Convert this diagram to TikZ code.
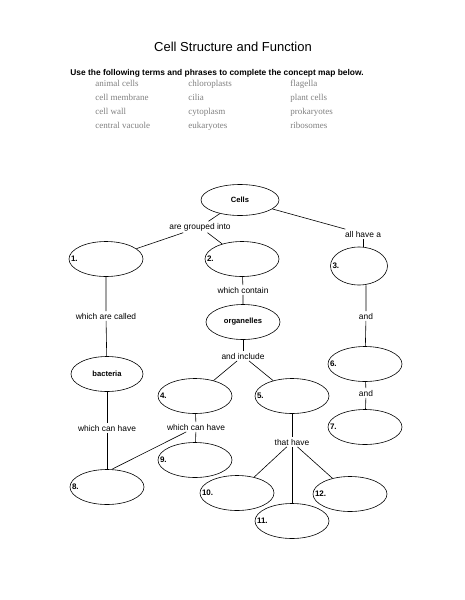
\documentclass[tikz,border=0pt]{standalone}
\usepackage{fontspec}
\setmainfont{Liberation Serif}
\setsansfont{Liberation Sans}
\usetikzlibrary{shapes.geometric}

\begin{document}
\begin{tikzpicture}[x = 1pt, y = -1pt, line width = 0.6pt, font = \sffamily\fontsize{8.4}{10}\selectfont,
	blank/.style = {ellipse, draw, minimum width = 74pt, minimum height = 35pt, inner sep = 0pt, font = \sffamily\bfseries\fontsize{7.6}{9}\selectfont},
	oval/.style = {blank, label = {[anchor = west, inner sep = 2pt, font = \sffamily\bfseries\fontsize{8}{9}\selectfont]west:#1}},
	link/.style = {inner sep = 1.5pt},
	word/.style = {anchor = base west, inner sep = 0pt, text = black!50, font = \rmfamily\fontsize{9}{10}\selectfont}]

	\useasboundingbox (0, 0) rectangle (464, 600);

	\node (title) at (233, 47) {\fontsize{13}{15}\selectfont Cell Structure and Function};
	\node (task) at (217, 73) {\bfseries\fontsize{8.4}{10}\selectfont Use the following terms and phrases to complete the concept map below.};

	\foreach \x/\terms in {95/{animal cells, cell membrane, cell wall, central vacuole}, 188/{chloroplasts, cilia, cytoplasm, eukaryotes}, 290/{flagella, plant cells, prokaryotes, ribosomes}}
		\foreach \w [count = \r] in \terms
			\node [word] (t\x-\r) at (\x, 72 + 14 * \r) {\w};

	\node [blank, minimum width = 78pt, minimum height = 31pt] (cells) at (240, 200) {Cells};
	\node [oval = 1.] (n1) at (106, 259) {};
	\node [oval = 2.] (n2) at (242, 259) {};
	\node [oval = 3., minimum width = 57pt, minimum height = 38pt] (n3) at (359, 266) {};
	\node [blank] (organelles) at (243, 322) {organelles};
	\node [blank, minimum width = 72pt] (bacteria) at (107, 374) {bacteria};
	\node [oval = 4.] (n4) at (195, 396) {};
	\node [oval = 5.] (n5) at (292, 396) {};
	\node [oval = 6.] (n6) at (365, 364) {};
	\node [oval = 7.] (n7) at (365, 427) {};
	\node [oval = 8.] (n8) at (107, 487) {};
	\node [oval = 9.] (n9) at (195, 460) {};
	\node [oval = 10.] (n10) at (237, 493) {};
	\node [oval = 11.] (n11) at (292, 521) {};
	\node [oval = 12.] (n12) at (350, 494) {};

	\node [link] (grouped) at (200, 227) {are grouped into};
	\node [link] (allhave) at (363, 234) {all have a};
	\node [link] (called) at (106, 316) {which are called};
	\node [link] (contain) at (243, 290) {which contain};
	\node [link] (and1) at (366, 316) {and};
	\node [link] (include) at (243, 356) {and include};
	\node [link] (and2) at (366, 393) {and};
	\node [link] (canhave1) at (107, 428) {which can have};
	\node [link] (canhave2) at (196, 427) {which can have};
	\node [link] (thathave) at (292, 442) {that have};

	\draw (cells) -- (grouped);
	\draw (grouped) -- (n1);
	\draw (grouped) -- (n2);
	\draw (cells) -- (allhave);
	\draw (allhave) -- (allhave |- n3.north);

	\draw (n1) -- (called) -- (bacteria);
	\draw (n2) -- (contain) -- (organelles);
	\draw (and1 |- n3.south) -- (and1) -- (n6);

	\draw (organelles) -- (include);
	\draw (include) -- (n4);
	\draw (include) -- (n5);
	\draw (n6) -- (and2) -- (n7);

	\draw (bacteria) -- (canhave1) -- (n8);
	\draw (n4) -- (canhave2) -- (n9);
	\draw (canhave2) -- (n8.75);

	\draw (n5) -- (thathave);
	\draw (thathave) -- (n10);
	\draw (thathave) -- (n11);
	\draw (thathave) -- (n12);

\end{tikzpicture}
\end{document}
